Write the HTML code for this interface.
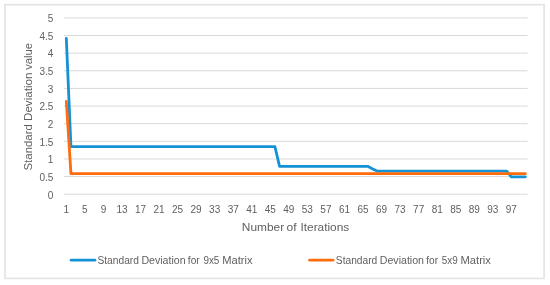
<!DOCTYPE html>
<html><head><meta charset="utf-8"><title>Chart</title>
<style>
html,body{margin:0;padding:0;background:#fff;}
body{width:550px;height:285px;overflow:hidden;}
svg{display:block;}
text{font-family:'Liberation Sans', Arial, sans-serif;fill:#606060;}
</style></head><body>
<svg width="550" height="285" viewBox="0 0 550 285">
<rect x="0" y="0" width="550" height="285" fill="#fff"/>
<rect x="4.9" y="4.7" width="539.2" height="273.7" fill="none" stroke="#E4E4E4" stroke-width="1.7"/>

<line x1="64.0" x2="527.6" y1="17.90" y2="17.90" stroke="#D9D9D9" stroke-width="1"/>
<line x1="64.0" x2="527.6" y1="35.53" y2="35.53" stroke="#D9D9D9" stroke-width="1"/>
<line x1="64.0" x2="527.6" y1="53.16" y2="53.16" stroke="#D9D9D9" stroke-width="1"/>
<line x1="64.0" x2="527.6" y1="70.79" y2="70.79" stroke="#D9D9D9" stroke-width="1"/>
<line x1="64.0" x2="527.6" y1="88.42" y2="88.42" stroke="#D9D9D9" stroke-width="1"/>
<line x1="64.0" x2="527.6" y1="106.05" y2="106.05" stroke="#D9D9D9" stroke-width="1"/>
<line x1="64.0" x2="527.6" y1="123.68" y2="123.68" stroke="#D9D9D9" stroke-width="1"/>
<line x1="64.0" x2="527.6" y1="141.31" y2="141.31" stroke="#D9D9D9" stroke-width="1"/>
<line x1="64.0" x2="527.6" y1="158.94" y2="158.94" stroke="#D9D9D9" stroke-width="1"/>
<line x1="64.0" x2="527.6" y1="176.57" y2="176.57" stroke="#D9D9D9" stroke-width="1"/>
<line x1="64.0" x2="527.6" y1="194.20" y2="194.20" stroke="#D9D9D9" stroke-width="1"/>
<text x="53.3" y="22.20" text-anchor="end" font-size="10">5</text>
<text x="53.3" y="39.83" text-anchor="end" font-size="10">4.5</text>
<text x="53.3" y="57.46" text-anchor="end" font-size="10">4</text>
<text x="53.3" y="75.09" text-anchor="end" font-size="10">3.5</text>
<text x="53.3" y="92.72" text-anchor="end" font-size="10">3</text>
<text x="53.3" y="110.35" text-anchor="end" font-size="10">2.5</text>
<text x="53.3" y="127.98" text-anchor="end" font-size="10">2</text>
<text x="53.3" y="145.61" text-anchor="end" font-size="10">1.5</text>
<text x="53.3" y="163.24" text-anchor="end" font-size="10">1</text>
<text x="53.3" y="180.87" text-anchor="end" font-size="10">0.5</text>
<text x="53.3" y="198.50" text-anchor="end" font-size="10">0</text>
<text x="66.32" y="213.2" text-anchor="middle" font-size="10">1</text>
<text x="84.86" y="213.2" text-anchor="middle" font-size="10">5</text>
<text x="103.41" y="213.2" text-anchor="middle" font-size="10">9</text>
<text x="121.95" y="213.2" text-anchor="middle" font-size="10">13</text>
<text x="140.49" y="213.2" text-anchor="middle" font-size="10">17</text>
<text x="159.04" y="213.2" text-anchor="middle" font-size="10">21</text>
<text x="177.58" y="213.2" text-anchor="middle" font-size="10">25</text>
<text x="196.13" y="213.2" text-anchor="middle" font-size="10">29</text>
<text x="214.67" y="213.2" text-anchor="middle" font-size="10">33</text>
<text x="233.21" y="213.2" text-anchor="middle" font-size="10">37</text>
<text x="251.76" y="213.2" text-anchor="middle" font-size="10">41</text>
<text x="270.30" y="213.2" text-anchor="middle" font-size="10">45</text>
<text x="288.85" y="213.2" text-anchor="middle" font-size="10">49</text>
<text x="307.39" y="213.2" text-anchor="middle" font-size="10">53</text>
<text x="325.93" y="213.2" text-anchor="middle" font-size="10">57</text>
<text x="344.48" y="213.2" text-anchor="middle" font-size="10">61</text>
<text x="363.02" y="213.2" text-anchor="middle" font-size="10">65</text>
<text x="381.57" y="213.2" text-anchor="middle" font-size="10">69</text>
<text x="400.11" y="213.2" text-anchor="middle" font-size="10">73</text>
<text x="418.65" y="213.2" text-anchor="middle" font-size="10">77</text>
<text x="437.20" y="213.2" text-anchor="middle" font-size="10">81</text>
<text x="455.74" y="213.2" text-anchor="middle" font-size="10">85</text>
<text x="474.29" y="213.2" text-anchor="middle" font-size="10">89</text>
<text x="492.83" y="213.2" text-anchor="middle" font-size="10">93</text>
<text x="511.37" y="213.2" text-anchor="middle" font-size="10">97</text>
<text x="241.84" y="230.8" font-size="11.2" textLength="42.38" lengthAdjust="spacingAndGlyphs">Number</text>
<text x="286.56" y="230.8" font-size="11.2" textLength="10.07" lengthAdjust="spacingAndGlyphs">of</text>
<text x="300.44" y="230.8" font-size="11.2" textLength="48.82" lengthAdjust="spacingAndGlyphs">Iterations</text>
<text transform="translate(32.3,0) rotate(-90)" x="-170.51" y="0" font-size="11.2" textLength="46.38" lengthAdjust="spacingAndGlyphs">Standard</text>
<text transform="translate(32.3,0) rotate(-90)" x="-120.94" y="0" font-size="11.2" textLength="48.30" lengthAdjust="spacingAndGlyphs">Deviation</text>
<text transform="translate(32.3,0) rotate(-90)" x="-69.80" y="0" font-size="11.2" textLength="26.90" lengthAdjust="spacingAndGlyphs">value</text>
<polyline points="66.32,38.35 70.95,146.70 75.59,146.70 80.23,146.70 84.86,146.70 89.50,146.70 94.13,146.70 98.77,146.70 103.41,146.70 108.04,146.70 112.68,146.70 117.31,146.70 121.95,146.70 126.59,146.70 131.22,146.70 135.86,146.70 140.49,146.70 145.13,146.70 149.77,146.70 154.40,146.70 159.04,146.70 163.67,146.70 168.31,146.70 172.95,146.70 177.58,146.70 182.22,146.70 186.85,146.70 191.49,146.70 196.13,146.70 200.76,146.70 205.40,146.70 210.03,146.70 214.67,146.70 219.31,146.70 223.94,146.70 228.58,146.70 233.21,146.70 237.85,146.70 242.49,146.70 247.12,146.70 251.76,146.70 256.39,146.70 261.03,146.70 265.67,146.70 270.30,146.70 274.94,146.70 279.57,166.34 284.21,166.34 288.85,166.34 293.48,166.34 298.12,166.34 302.75,166.34 307.39,166.34 312.03,166.34 316.66,166.34 321.30,166.34 325.93,166.34 330.57,166.34 335.21,166.34 339.84,166.34 344.48,166.34 349.11,166.34 353.75,166.34 358.39,166.34 363.02,166.34 367.66,166.34 372.29,168.71 376.93,171.07 381.57,171.07 386.20,171.07 390.84,171.07 395.47,171.07 400.11,171.07 404.75,171.07 409.38,171.07 414.02,171.07 418.65,171.07 423.29,171.07 427.93,171.07 432.56,171.07 437.20,171.07 441.83,171.07 446.47,171.07 451.11,171.07 455.74,171.07 460.38,171.07 465.01,171.07 469.65,171.07 474.29,171.07 478.92,171.07 483.56,171.07 488.19,171.07 492.83,171.07 497.47,171.07 502.10,171.07 506.74,171.07 511.37,176.92 516.01,176.92 520.65,176.92 525.28,176.92" fill="none" stroke="#1592D5" stroke-width="2.8" stroke-linejoin="round" stroke-linecap="round"/>
<polyline points="66.32,101.47 70.95,173.64 75.59,173.64 80.23,173.64 84.86,173.64 89.50,173.64 94.13,173.64 98.77,173.64 103.41,173.64 108.04,173.64 112.68,173.64 117.31,173.64 121.95,173.64 126.59,173.64 131.22,173.64 135.86,173.64 140.49,173.64 145.13,173.64 149.77,173.64 154.40,173.64 159.04,173.64 163.67,173.64 168.31,173.64 172.95,173.64 177.58,173.64 182.22,173.64 186.85,173.64 191.49,173.64 196.13,173.64 200.76,173.64 205.40,173.64 210.03,173.64 214.67,173.64 219.31,173.64 223.94,173.64 228.58,173.64 233.21,173.64 237.85,173.64 242.49,173.64 247.12,173.64 251.76,173.64 256.39,173.64 261.03,173.64 265.67,173.64 270.30,173.64 274.94,173.64 279.57,173.64 284.21,173.64 288.85,173.64 293.48,173.64 298.12,173.64 302.75,173.64 307.39,173.64 312.03,173.64 316.66,173.64 321.30,173.64 325.93,173.64 330.57,173.64 335.21,173.64 339.84,173.64 344.48,173.64 349.11,173.64 353.75,173.64 358.39,173.64 363.02,173.64 367.66,173.64 372.29,173.64 376.93,173.64 381.57,173.64 386.20,173.64 390.84,173.64 395.47,173.64 400.11,173.64 404.75,173.64 409.38,173.64 414.02,173.64 418.65,173.64 423.29,173.64 427.93,173.64 432.56,173.64 437.20,173.64 441.83,173.64 446.47,173.64 451.11,173.64 455.74,173.64 460.38,173.64 465.01,173.64 469.65,173.64 474.29,173.64 478.92,173.64 483.56,173.64 488.19,173.64 492.83,173.64 497.47,173.64 502.10,173.64 506.74,173.64 511.37,173.64 516.01,173.64 520.65,173.64 525.28,173.64" fill="none" stroke="#FF6C0E" stroke-width="2.8" stroke-linejoin="round" stroke-linecap="round"/>
<line x1="71.1" x2="94.9" y1="260.2" y2="260.2" stroke="#1592D5" stroke-width="2.8" stroke-linecap="round"/>
<text x="97.49" y="264.1" font-size="10" textLength="41.42" lengthAdjust="spacingAndGlyphs">Standard</text>
<text x="141.40" y="264.1" font-size="10" textLength="44.24" lengthAdjust="spacingAndGlyphs">Deviation</text>
<text x="187.85" y="264.1" font-size="10" textLength="11.83" lengthAdjust="spacingAndGlyphs">for</text>
<text x="203.40" y="264.1" font-size="10" textLength="15.97" lengthAdjust="spacingAndGlyphs">9x5</text>
<text x="222.16" y="264.1" font-size="10" textLength="30.40" lengthAdjust="spacingAndGlyphs">Matrix</text>
<line x1="309.6" x2="333.0" y1="260.2" y2="260.2" stroke="#FF6C0E" stroke-width="2.8" stroke-linecap="round"/>
<text x="335.89" y="264.1" font-size="10" textLength="41.42" lengthAdjust="spacingAndGlyphs">Standard</text>
<text x="379.80" y="264.1" font-size="10" textLength="44.24" lengthAdjust="spacingAndGlyphs">Deviation</text>
<text x="426.25" y="264.1" font-size="10" textLength="11.83" lengthAdjust="spacingAndGlyphs">for</text>
<text x="441.80" y="264.1" font-size="10" textLength="15.97" lengthAdjust="spacingAndGlyphs">5x9</text>
<text x="460.56" y="264.1" font-size="10" textLength="30.40" lengthAdjust="spacingAndGlyphs">Matrix</text>
</svg></body></html>
